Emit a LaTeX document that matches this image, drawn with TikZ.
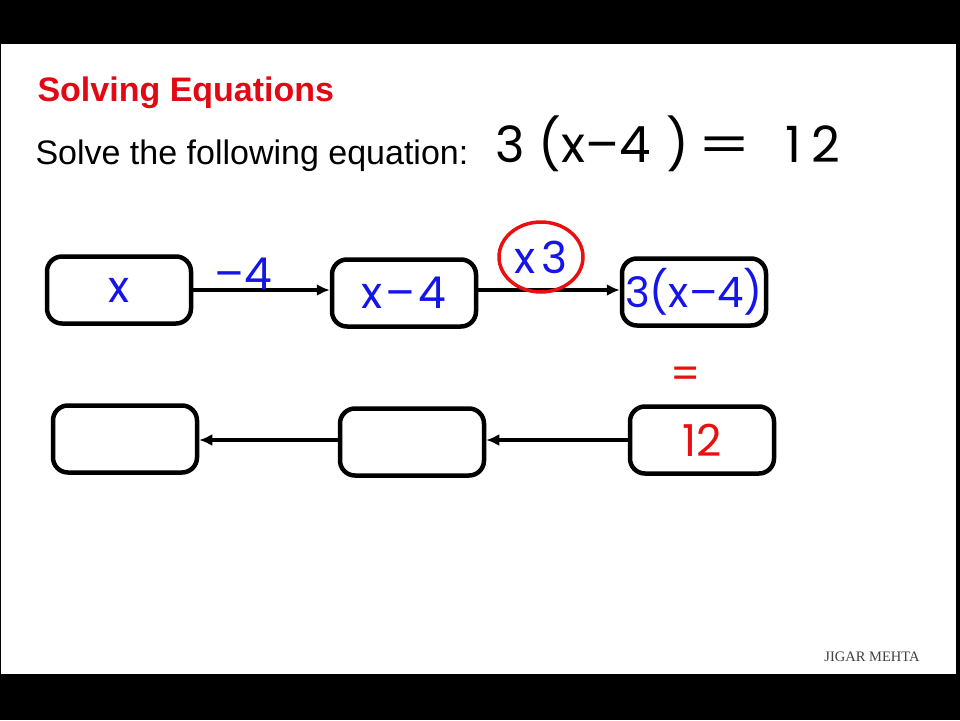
\documentclass[tikz,border=0pt]{standalone}
\usepackage{fontspec}
\setmainfont{Liberation Sans}
\newfontfamily\handfont{Poppins}
\newfontfamily\signfont{Liberation Serif}
\usetikzlibrary{arrows.meta}
\definecolor{penblue}{RGB}{20,20,235}
\definecolor{penred}{RGB}{232,16,16}
\definecolor{titlered}{RGB}{226,8,20}
\newcommand{\arw}{-{Latex[length=13pt,width=12pt]}}
\newcommand{\pen}[1]{\handfont\fontsize{#1}{#1}\selectfont}

\begin{document}
\begin{tikzpicture}[x=1pt,y=-1pt,
  box/.style={draw,line width=4.5pt,rounded corners=15pt,minimum width=144pt,minimum height=67pt,inner sep=0pt},
  link/.style={line width=3.3pt,\arw},
  ink/.style={text=penblue,font=\pen{44}}]
\useasboundingbox (0,0) rectangle (960,720);
%slide
\fill[black] (0,0) rectangle (960,720);
\fill[white] (1,44) rectangle (956,674);
\node[anchor=base west,text=titlered,font=\bfseries\fontsize{34}{34}\selectfont] (title) at (34,101) {Solving Equations};
\node[anchor=base west,font=\fontsize{34}{34}\selectfont] (task) at (32,164) {Solve the following equation:};
\node[anchor=base west,font=\pen{50}] (eqn) at (492,162)
  {3\hspace{14pt}(x–4\hspace{16pt})\hspace{8pt}\scalebox{1.5}[1]{=}\hspace{34pt}1\hspace{10pt}2};
%forward chain
\node[box,ink] (x) at (119,290) {x};
\node[box,ink] (xm4) at (404,293) {x\hspace{3pt}–\hspace{3pt}4};
\node[box,ink,font=\pen{42}] (times) at (694,292) {3(x–4)};
\draw[link] (x.east) -- (x.east -| xm4.west);
\node[ink] (minus) at (243,274) {–4};
\draw[link] (xm4.east |- x.east) -- (times.west |- x.east);
\node[ink] (three) at (541,257) {x\hspace{6pt}3};
\draw[penred,line width=3.5pt] (three) ellipse (42 and 35);
%backward chain
\node[text=penred,font=\pen{42}] (eq) at (686,378) {=};
\node[box,text=penred,font=\pen{44}] (twelve) at (702,440) {12};
\node[box] (back) at (412,442) {};
\node[box] (start) at (125,439) {};
\draw[link] (twelve.west) -- (twelve.west -| back.east);
\draw[link] (back.west |- twelve.west) -- (start.east |- twelve.west);
\node[anchor=base,font=\signfont\fontsize{14.5}{14.5}\selectfont,text=black!75] (author) at (872,661) {JIGAR MEHTA};
\end{tikzpicture}
\end{document}
